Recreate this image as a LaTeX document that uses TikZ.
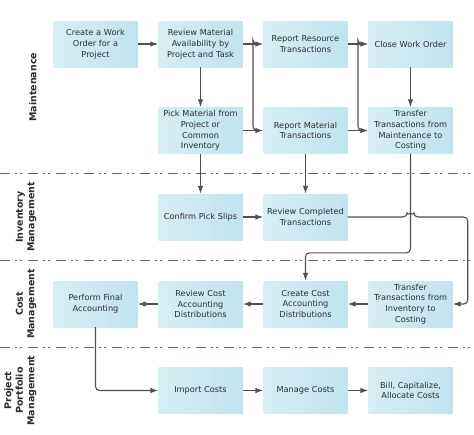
\documentclass[tikz,border=0pt]{standalone}
\usepackage{fontspec}
\setmainfont{DejaVu Sans}
\usetikzlibrary{arrows.meta,positioning,calc}
\definecolor{boxdark}{RGB}{192,228,238}
\definecolor{boxlight}{RGB}{214,238,244}
\definecolor{linegray}{RGB}{80,80,80}
\definecolor{textgray}{RGB}{45,45,45}
\tikzstyle{block} = [rectangle, left color=boxlight, right color=boxdark, text=textgray, minimum height=46pt, minimum width=84pt, text width=84pt, align=center, inner sep=0pt, font=\fontsize{8.2}{10.8}\selectfont]
\tikzstyle{lane} = [rotate=90, anchor=south, align=center, text=textgray, font=\bfseries\fontsize{9.5}{11.5}\selectfont]
\tikzstyle{line} = [draw=linegray, line width=1.1pt, ->, rounded corners=4pt]
\tikzstyle{branch} = [draw=linegray, line width=1.1pt, rounded corners=4pt]
\tikzstyle{divider} = [draw=linegray!85, line width=1.4pt, dash pattern=on 10pt off 5pt on 2pt off 3pt on 2pt off 6pt]
\tikzstyle{reference} = [coordinate]

\begin{document}
\begin{tikzpicture}[auto, node distance=105pt, >={Latex[length=8pt,width=5.5pt]}]
\useasboundingbox (0,0) rectangle (474pt,-434pt);
% Nodes
	\node [reference] (left) at (0,0) {};
	\node [reference] (right) at (474pt,0) {};
	\node [block] (workorder) at (95.5pt,-44pt) {Create a Work\\Order for a\\Project};
	\node [block, right of=workorder] (review) {Review Material\\Availability by\\Project and Task};
	\node [block, right of=review] (resource) {Report Resource\\Transactions};
	\node [block, right of=resource] (closewo) {Close Work Order};
	\node [block, below of=review, node distance=86.5pt] (pick) {Pick Material from\\Project or\\Common\\Inventory};
	\node [block, right of=pick] (material) {Report Material\\Transactions};
	\node [block, right of=material] (maintcost) {Transfer\\Transactions from\\Maintenance to\\Costing};
	\node [block, below of=pick, node distance=86.5pt] (confirm) {Confirm Pick Slips};
	\node [block, right of=confirm] (completed) {Review Completed\\Transactions};
	\node [block, below of=confirm, node distance=87pt] (reviewcost) {Review Cost\\Accounting\\Distributions};
	\node [block, left of=reviewcost] (finalacct) {Perform Final\\Accounting};
	\node [block, right of=reviewcost] (createcost) {Create Cost\\Accounting\\Distributions};
	\node [block, right of=createcost] (invcost) {Transfer\\Transactions from\\Inventory to\\Costing};
	\node [block, below of=reviewcost, node distance=86.5pt] (import) {Import Costs};
	\node [block, right of=import] (manage) {Manage Costs};
	\node [block, right of=manage] (bill) {Bill, Capitalize,\\Allocate Costs};
% Swimlanes
	\node [reference] (d1) at ($(pick.south)!0.5!(confirm.north)$) {};
	\node [reference] (d2) at ($(confirm.south)!0.5!(reviewcost.north)$) {};
	\node [reference] (d3) at ($(reviewcost.south)!0.5!(import.north)$) {};
	\draw [divider] (left |- d1) -- (right |- d1);
	\draw [divider] (left |- d2) -- (right |- d2);
	\draw [divider] (left |- d3) -- (right |- d3);
	\node [lane] (lmaint) at ($(left |- review)!0.5!(left |- pick)+(40pt,0)$) {Maintenance};
	\node [lane] (linv) at ($(left |- confirm)+(40pt,0)$) {Inventory\\Management};
	\node [lane] (lcost) at ($(left |- reviewcost)+(40pt,0)$) {Cost\\Management};
	\node [lane] (lppm) at ($(left |- import)+(40pt,0)$) {Project\\Portfolio\\Management};
% Connections
	\draw [line] (workorder) -- (review);
	\draw [line] (review) -- (pick);
	\draw [line] (review) -- (resource);
	\draw [line] (pick) -- (material);
	\draw [branch] ($(resource.west)+(-5pt,0)$) -| ($(review.east)!0.5!(material.west |- review.east)$) |- ($(material.west)+(-5pt,0)$);
	\draw [line] (resource) -- (closewo);
	\draw [line] (material) -- (maintcost);
	\draw [branch] ($(closewo.west)+(-5pt,0)$) -| ($(resource.east)!0.5!(closewo.west)$) |- ($(maintcost.west)+(-5pt,0)$);
	\draw [line] (closewo) -- (maintcost);
	\draw [line] (pick) -- (confirm);
	\draw [line] (material) -- (completed);
	\draw [line] (confirm) -- (completed);
	\draw [line] (maintcost.south) |- ($(createcost.north)+(0,28pt)$) -- (createcost.north);
	\draw [line] (completed.east) -- ($(completed.east -| maintcost.south)+(-3.5pt,0)$) arc[start angle=180, end angle=0, radius=3.5pt] -- ($(completed.east -| invcost.east)+(15pt,0)$) |- (invcost.east);
	\draw [line] (invcost) -- (createcost);
	\draw [line] (createcost) -- (reviewcost);
	\draw [line] (reviewcost) -- (finalacct);
	\draw [line] (finalacct.south) |- (import.west);
	\draw [line] (import) -- (manage);
	\draw [line] (manage) -- (bill);
\end{tikzpicture}
\end{document}
